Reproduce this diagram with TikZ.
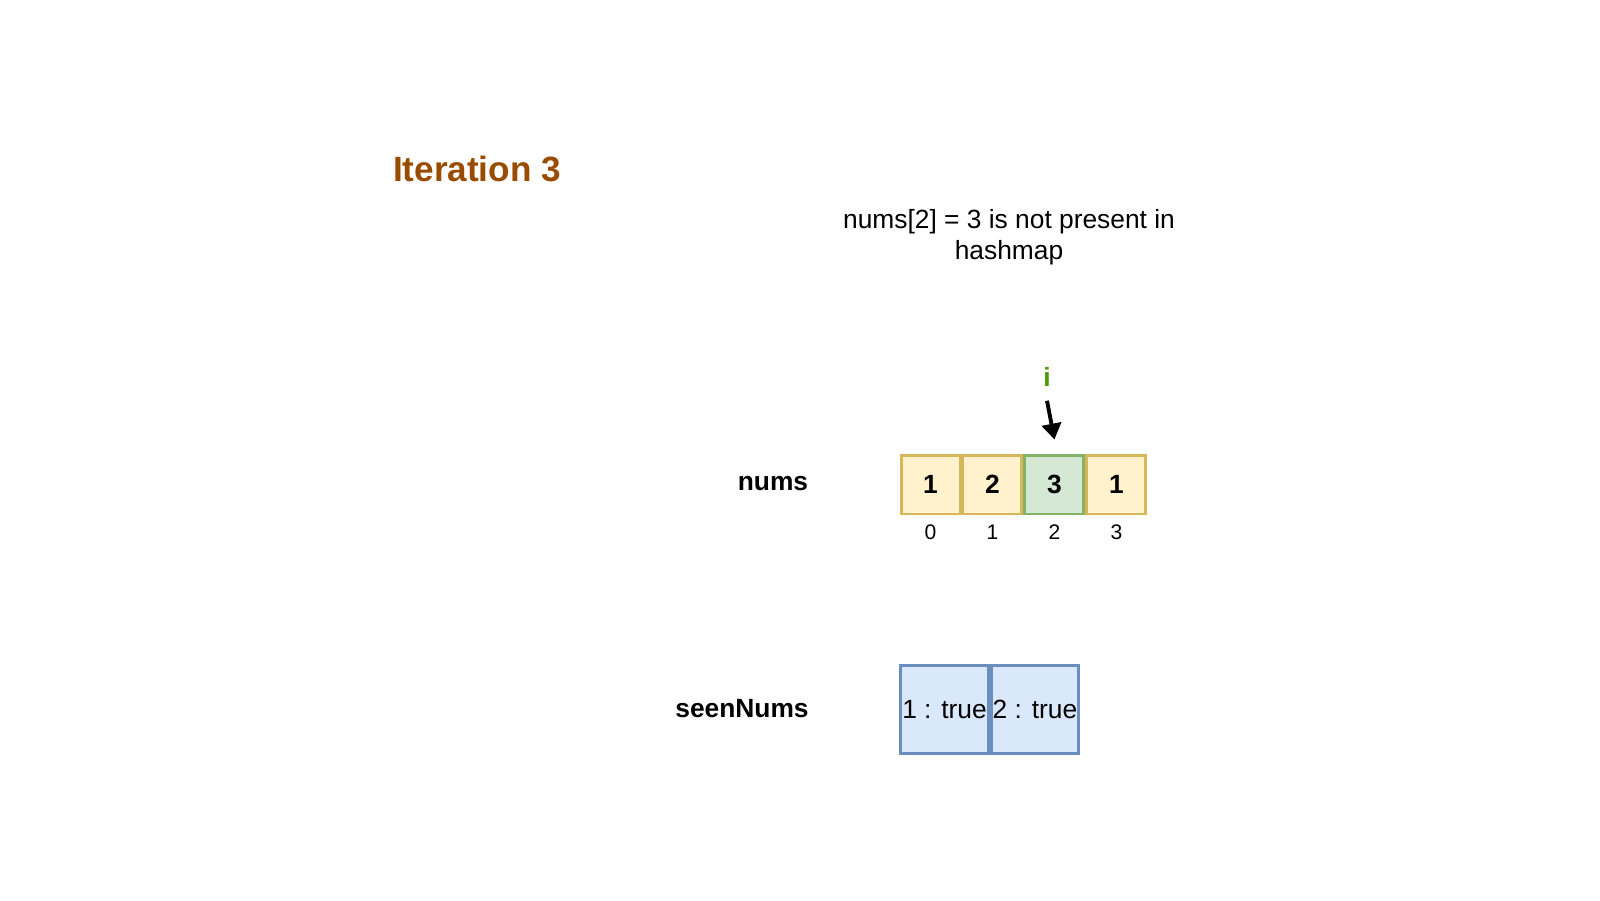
\documentclass[tikz,border=0pt]{standalone}
\usepackage{fontspec}
\setmainfont{Liberation Sans}
\usepackage{tikz}
\usetikzlibrary{positioning,arrows.meta}
\definecolor{titlebrown}{HTML}{994C00}
\definecolor{iptr}{HTML}{4D9900}
\definecolor{yelfill}{HTML}{FFF2CC}
\definecolor{yeldraw}{HTML}{D6B656}
\definecolor{grnfill}{HTML}{D5E8D4}
\definecolor{grndraw}{HTML}{82B366}
\definecolor{blufill}{HTML}{DAE8FC}
\definecolor{bludraw}{HTML}{6C8EBF}
\tikzset{
  cell/.style={draw=yeldraw,fill=yelfill,line width=1.7pt,minimum size=1.18cm,inner sep=0pt,font=\fontsize{15}{18}\selectfont\bfseries},
  curcell/.style={cell,draw=grndraw,fill=grnfill},
  mapcell/.style={draw=bludraw,fill=blufill,line width=1.7pt,minimum size=1.75cm,inner sep=0pt,font=\fontsize{15}{18}\selectfont},
  idx/.style={font=\fontsize{12}{14}\selectfont},
  lbl/.style={font=\fontsize{15}{18}\selectfont\bfseries}
}
\begin{document}
\begin{tikzpicture}[x=0.02cm,y=-0.02cm]
\useasboundingbox (0,0) rectangle (1600,900);
% title
\node[text=titlebrown,font=\fontsize{20}{24}\selectfont\bfseries] (title) at (477,169) {Iteration 3};
\node[align=center,font=\fontsize{15}{18}\selectfont] (note) at (1009,237) {nums[2] = 3 is not present in\\hashmap};
% nums array
\node[lbl] (numslbl) at (773,484) {nums};
\node[cell] (n0) at (930.5,484.5) {1};
\node[cell,right=0pt of n0] (n1) {2};
\node[curcell,right=0pt of n1] (n2) {3};
\node[cell,right=0pt of n2] (n3) {1};
\foreach \k in {0,...,3}
  \node[idx,below=2pt of n\k] (i\k) {\k};
% pointer
\node[text=iptr,font=\fontsize{15}{18}\selectfont\bfseries] (iname) at (1047,377) {i};
\draw[line width=2.2pt,-{Triangle[length=9pt,width=11pt]}] (iname.south) ++(0,8) -- ([yshift=8pt]n2.north);
% seenNums map
\node[lbl] (seenlbl) at (742,709) {seenNums};
\node[mapcell] (m0) at (944.5,709.5) {1 : true};
\node[mapcell,right=0pt of m0] (m1) {2 : true};
\end{tikzpicture}
\end{document}
